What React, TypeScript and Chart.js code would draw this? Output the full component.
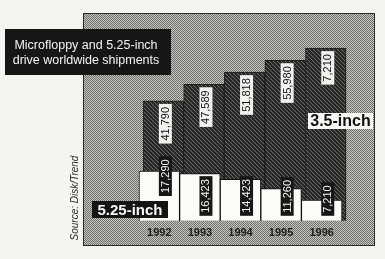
import React, { useEffect, useRef } from 'react';
import { Chart, registerables } from 'chart.js';

Chart.register(...registerables);

const years = ['1992', '1993', '1994', '1995', '1996'];
const values525 = [17290, 16423, 14423, 11260, 7210];
const labels525 = ['17,290', '16,423', '14,423', '11,260', '7,210'];
const values35 = [41790, 47589, 51818, 55980, 60200];
const labels35 = ['41,790', '47,589', '51,818', '55,980', '7,210'];
const titleLines = ['Microfloppy and 5.25-inch', 'drive worldwide shipments'];
const sourceText = 'Source: Disk/Trend';
const series525 = '5.25-inch';
const series35 = '3.5-inch';

const FONT = '"Liberation Sans", Arial, Helvetica, sans-serif';

function makePanelPattern(ctx: CanvasRenderingContext2D) {
  const c = document.createElement('canvas');
  c.width = 2;
  c.height = 2;
  const g = c.getContext('2d')!;
  g.fillStyle = '#c6c6c2';
  g.fillRect(0, 0, 2, 2);
  g.fillStyle = '#70706b';
  g.fillRect(0, 0, 1, 1);
  g.fillRect(1, 1, 1, 1);
  return ctx.createPattern(c, 'repeat');
}

function makeHatchPattern(ctx: CanvasRenderingContext2D) {
  const c = document.createElement('canvas');
  c.width = 4;
  c.height = 4;
  const g = c.getContext('2d')!;
  g.fillStyle = '#282826';
  g.fillRect(0, 0, 4, 4);
  g.fillStyle = '#6a6a66';
  for (let i = 0; i < 4; i++) g.fillRect(i, i, 1, 1);
  return ctx.createPattern(c, 'repeat');
}

const LEGEND525 = { x: 92, y: 201, w: 76, h: 17 };

const decorPlugin = {
  id: 'decor',
  beforeDraw(chart: any) {
    const ctx = chart.ctx as CanvasRenderingContext2D;
    ctx.save();
    ctx.fillStyle = '#f4f5f0';
    ctx.fillRect(0, 0, chart.width, chart.height);
    ctx.fillStyle = makePanelPattern(ctx) as any;
    ctx.fillRect(83, 13, 292, 233);
    ctx.strokeStyle = '#2a2a2a';
    ctx.lineWidth = 1;
    ctx.strokeRect(83.5, 13.5, 291, 232);
    ctx.restore();
  },
  afterDatasetsDraw(chart: any) {
    const ctx = chart.ctx as CanvasRenderingContext2D;
    const m525 = chart.getDatasetMeta(0);
    const m35 = chart.getDatasetMeta(1);
    const bottom = chart.chartArea.bottom;
    ctx.save();
    ctx.font = `11px ${FONT}`;
    ctx.textAlign = 'center';
    ctx.textBaseline = 'middle';
    m35.data.forEach((bar: any, i: number) => {
      const cx = bar.x + 2;
      const top = bar.y + 3;
      const text = labels35[i];
      const len = ctx.measureText(text).width + 6;
      ctx.fillStyle = '#f1f1ee';
      ctx.fillRect(cx - 6.5, top, 13, len);
      ctx.save();
      ctx.translate(cx + 0.5, top + len / 2);
      ctx.rotate(-Math.PI / 2);
      ctx.fillStyle = '#111';
      ctx.fillText(text, 0, 0);
      ctx.restore();
    });
    m525.data.forEach((bar: any, i: number) => {
      const cx = m35.data[i].x + 2;
      const text = labels525[i];
      const len = ctx.measureText(text).width + 6;
      let b = bottom - 5;
      if (cx - 6.5 < LEGEND525.x + LEGEND525.w) b = LEGEND525.y - 5;
      ctx.fillStyle = '#171717';
      ctx.fillRect(cx - 6.5, b - len, 13, len);
      ctx.save();
      ctx.translate(cx + 0.5, b - len / 2);
      ctx.rotate(-Math.PI / 2);
      ctx.fillStyle = '#f4f4f4';
      ctx.fillText(text, 0, 0);
      ctx.restore();
    });
    ctx.fillStyle = '#141414';
    ctx.fillRect(LEGEND525.x, LEGEND525.y, LEGEND525.w, LEGEND525.h);
    ctx.font = `bold 15px ${FONT}`;
    ctx.fillStyle = '#f6f6f6';
    ctx.textAlign = 'center';
    ctx.fillText(series525, LEGEND525.x + LEGEND525.w / 2, LEGEND525.y + LEGEND525.h / 2 + 1);
    ctx.fillStyle = '#f6f6f2';
    ctx.fillRect(308, 113, 65, 16);
    ctx.font = `bold 16px ${FONT}`;
    ctx.fillStyle = '#111';
    ctx.fillText(series35, 340.5, 121.5);
    ctx.fillStyle = '#161616';
    ctx.fillRect(5, 29, 166, 46);
    ctx.font = `12.5px ${FONT}`;
    ctx.fillStyle = '#f4f4f4';
    ctx.fillText(titleLines[0], 86, 46);
    ctx.fillText(titleLines[1], 86, 61);
    ctx.save();
    ctx.translate(75, 198);
    ctx.rotate(-Math.PI / 2);
    ctx.font = `italic 10px ${FONT}`;
    ctx.fillStyle = '#2a2a2a';
    ctx.fillText(sourceText, 0, 0);
    ctx.restore();
    ctx.restore();
  },
};

export default function App() {
  const ref = useRef<HTMLCanvasElement>(null);
  useEffect(() => {
    const canvas = ref.current!;
    const ctx = canvas.getContext('2d')!;
    const intTicks = (axis: any) => {
      axis.ticks = years.map((_, i) => ({ value: i }));
    };
    const chart = new Chart(canvas, {
      type: 'bar',
      data: {
        datasets: [
          {
            label: series525,
            data: values525.map((v, i) => ({ x: i, y: v })),
            xAxisID: 'x',
            backgroundColor: '#fbfbf7',
            borderColor: '#111',
            borderWidth: 1,
            barPercentage: 1,
            categoryPercentage: 1,
            grouped: false,
            clip: false as any,
          },
          {
            label: series35,
            data: values35.map((v, i) => ({ x: i, y: v })),
            xAxisID: 'x2',
            backgroundColor: makeHatchPattern(ctx) as any,
            borderColor: '#1e1e1c',
            borderWidth: 1,
            barPercentage: 1,
            categoryPercentage: 1,
            grouped: false,
            clip: false as any,
          },
        ],
      },
      options: {
        responsive: false,
        animation: false,
        layout: { padding: { left: 139, right: 43, top: 20, bottom: 13 } },
        plugins: { legend: { display: false }, tooltip: { enabled: false }, title: { display: false } },
        scales: {
          x: {
            type: 'linear',
            offset: false,
            min: -0.5,
            max: 4.5,
            afterBuildTicks: intTicks,
            grid: { display: false, offset: false, drawTicks: false },
            border: { display: false },
            ticks: {
              padding: 6,
              color: '#1c1c1c',
              font: { family: FONT, size: 11, weight: 'bold' },
              callback: (v: any) => years[Math.round(Number(v))] ?? '',
            },
          },
          x2: {
            type: 'linear',
            display: false,
            offset: false,
            min: -0.6,
            max: 4.4,
            afterBuildTicks: intTicks,
          },
          y: { display: false, min: 0, max: 70000 },
        },
      } as any,
      plugins: [decorPlugin],
    });
    return () => chart.destroy();
  }, []);
  return (
    <div style={{ position: 'fixed', left: 0, top: 0, width: 385, height: 259 }}>
      <canvas ref={ref} width={385} height={259} />
    </div>
  );
}
